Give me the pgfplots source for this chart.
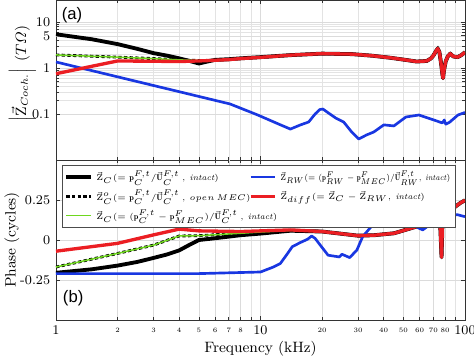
\documentclass[border=0pt]{standalone}
\usepackage{amsmath}
\usepackage{graphicx}
\usepackage{fontspec}
\usepackage{pgfplots}
\pgfplotsset{compat=1.18}
\newfontfamily\arial{Liberation Sans}
\definecolor{cblue}{RGB}{25,55,225}
\definecolor{cred}{RGB}{235,30,35}
\definecolor{cgreen}{RGB}{110,215,30}
\tikzset{
  cblk/.style={black, line width=2.3pt, line join=round},
  cdash/.style={black, line width=1.7pt, dash pattern=on 2pt off 1.4pt},
  cgrn/.style={cgreen, line width=0.9pt, line join=round},
  cblu/.style={cblue, line width=1.6pt, line join=round},
  cre/.style={cred, line width=2.0pt, line join=round},
}
\begin{document}
\begin{tikzpicture}
\useasboundingbox (-33.6pt,-22.2pt) rectangle (250.8pt,192pt);
% ---------------- top panel ----------------
\begin{axis}[
  xmode=log, xmin=1, xmax=100,
  scale only axis, width=245.4pt, height=96pt,
  grid=both,
  major grid style={gray!28, line width=0.3pt},
  minor grid style={gray!22, line width=0.3pt},
  tick align=inside,
  major tick length=2.6pt, minor tick length=1.6pt,
  tick style={black!80, line width=0.4pt},
  axis line style={black!80, line width=0.5pt},
  tick label style={font=\footnotesize},
  label style={font=\small},
  at={(0,96pt)}, anchor=south west,
  ymode=log, ymin=0.01, ymax=30,
  xtick={1,10,100}, xticklabels={,,},
  ytick={0.1,1,10}, yticklabels={0.1,1,10},
  extra y ticks={5}, extra y tick labels={5},
  ylabel={$\left|\vec{\mathrm{Z}}_{Coch.}\right|\;(T\varOmega)$},
  ylabel style={at={(axis description cs:-0.082,0.54)}, anchor=center, rotate=0},
]
\addplot[cblk] coordinates {(1,5.4)(1.5,4.2)(2,3.3)(2.5,2.6)(3,2.1)(3.5,1.85)(4,1.62)(4.5,1.42)(5,1.25)(5.5,1.38)(6,1.5)(7,1.55)(8,1.62)(10,1.72)(14,1.9)(20,2.05)(28,2.0)(35,1.85)(43,1.67)(50,1.52)(58,1.38)(65,1.42)(68,1.6)(70,1.85)(72,2.3)(73.6,2.65)(75,2.2)(76.5,1.2)(77.5,0.75)(78.1,0.6)(79,0.9)(80.5,1.4)(82.5,1.8)(84.7,2.05)(87.6,1.78)(92,1.72)(96,1.9)(100,2.2)};
\addplot[cdash] coordinates {(1,1.92)(2,1.72)(3,1.6)(4,1.5)(5,1.45)(6,1.47)(7,1.52)(8,1.6)(10,1.7)(14,1.9)(20,2.05)(28,2.0)(35,1.85)(43,1.67)(50,1.52)(58,1.38)(65,1.42)(68,1.6)(70,1.85)(72,2.3)(73.6,2.65)(75,2.2)(76.5,1.2)(77.5,0.75)(78.1,0.6)(79,0.9)(80.5,1.4)(82.5,1.8)(84.7,2.05)(87.6,1.78)(92,1.72)(96,1.9)(100,2.2)};
\addplot[cgrn] coordinates {(1,1.92)(2,1.72)(3,1.6)(4,1.5)(5,1.45)(6,1.47)(7,1.52)(8,1.6)(10,1.7)(14,1.9)(20,2.05)(28,2.0)(35,1.85)(43,1.67)(50,1.52)(58,1.38)(65,1.42)(68,1.6)(70,1.85)(72,2.3)(73.6,2.65)(75,2.2)(76.5,1.2)(77.5,0.75)(78.1,0.6)(79,0.9)(80.5,1.4)(82.5,1.8)(84.7,2.05)(87.6,1.78)(92,1.72)(96,1.9)(100,2.2)};
\addplot[cblu] coordinates {(1,1.35)(7.1,0.165)(9.7,0.095)(12,0.063)(14,0.047)(15.7,0.058)(17.2,0.067)(18.5,0.1)(19.5,0.125)(20.2,0.128)(21.5,0.105)(23.3,0.082)(25.5,0.067)(28,0.04)(30.2,0.0286)(33,0.035)(35.8,0.0406)(40.1,0.058)(44.9,0.055)(51.4,0.086)(59.5,0.095)(68,0.078)(77.5,0.064)(79.2,0.074)(80.5,0.06)(84,0.066)(92.4,0.095)(100,0.108)};
\addplot[cre] coordinates {(1,0.75)(1.5,1.09)(2,1.42)(3,1.4)(4,1.38)(5,1.42)(6,1.47)(7,1.52)(8,1.6)(10,1.7)(14,1.9)(20,2.05)(28,2.0)(35,1.85)(43,1.67)(50,1.52)(58,1.38)(65,1.42)(68,1.6)(70,1.85)(72,2.3)(73.6,2.65)(75,2.2)(76.5,1.2)(77.5,0.75)(78.1,0.6)(79,0.9)(80.5,1.4)(82.5,1.8)(84.7,2.05)(87.6,1.78)(92,1.72)(96,1.9)(100,2.2)};
\node[font=\arial\fontsize{10}{12}\selectfont] at (axis description cs:0.039,0.906) {(a)};
\end{axis}
% ---------------- bottom panel ----------------
\begin{axis}[
  xmode=log, xmin=1, xmax=100,
  scale only axis, width=245.4pt, height=96pt,
  grid=both,
  major grid style={gray!28, line width=0.3pt},
  minor grid style={gray!22, line width=0.3pt},
  tick align=inside,
  major tick length=2.6pt, minor tick length=1.6pt,
  tick style={black!80, line width=0.4pt},
  axis line style={black!80, line width=0.5pt},
  tick label style={font=\footnotesize},
  label style={font=\small},
  at={(0,0)}, anchor=south west,
  ymin=-0.5, ymax=0.5,
  ytick={-0.25,0,0.25}, yticklabels={-0.25,0,0.25},
  xtick={1,10,100}, xticklabels={1,10,100},
  extra x ticks={2,3,4,5,6,7,8,20,30,40,50,60,70,80},
  extra x tick labels={2,3,4,5,6,7,8,20,30,40,50,60,70,80},
  extra x tick style={tick label style={font=\fontsize{4}{5}\selectfont, yshift=-1.5pt}, major tick length=1.6pt},
  xlabel={Frequency (kHz)}, ylabel={Phase (cycles)},
  xlabel style={yshift=3pt},
  ylabel style={at={(axis description cs:-0.108,0.5)}, anchor=center, rotate=0},
  legend columns=2,
  legend cell align=left,
  legend style={at={(axis description cs:0.015,0.969)}, anchor=north west,
    font=\fontsize{5}{6}\selectfont, draw=black!70, line width=0.4pt, fill=white,
    inner sep=1.2pt, row sep=0pt,
    /tikz/every even column/.append style={column sep=-19pt}},
  legend image code/.code={\draw[#1] (0cm,0cm) -- (0.52cm,0cm);},
]
\addlegendimage{cblk}
\addlegendentry{$\vec{\mathrm{Z}}_C(=\mathbf{p}_C^{F,t}/\vec{\mathbf{U}}_C^{F,t}\,,\,\textit{intact})$}
\addlegendimage{cblu}
\addlegendentry{\scalebox{0.85}[1]{$\vec{\mathrm{Z}}_{RW}(=(\mathbf{p}^F_{RW}-\mathbf{p}^F_{MEC})/\vec{\mathbf{U}}_{RW}^{F,t},\,\textit{intact})$}}
\addlegendimage{cdash}
\addlegendentry{$\vec{\mathrm{Z}}^o_C(=\mathbf{p}_C^{F,t}/\vec{\mathbf{U}}_C^{F,t}\,,\,open\,MEC)$}
\addlegendimage{cre}
\addlegendentry{$\vec{\mathrm{Z}}_{diff}(=\vec{\mathrm{Z}}_C-\vec{\mathrm{Z}}_{RW},\,\textit{intact})$}
\addlegendimage{cgrn}
\addlegendentry{$\vec{\mathrm{Z}}_C(=(\mathbf{p}_C^{F,t}-\mathbf{p}^F_{MEC})/\vec{\mathbf{U}}_C^{F,t}\,,\,\textit{intact})$}
\addplot[cblk, forget plot] coordinates {(1,-0.205)(1.5,-0.183)(2,-0.16)(2.5,-0.137)(3,-0.112)(3.5,-0.09)(4,-0.065)(4.5,-0.03)(5,0.0)(6,0.011)(8,0.03)(10,0.04)(14,0.058)(20,0.053)(30,0.027)(36,0.03)(45,0.042)(58,0.084)(65,0.12)(70,0.147)(73.6,0.18)(75.5,0.12)(76.8,-0.108)(77.6,0.1)(78.3,0.218)(80,0.2)(84.7,0.185)(90,0.21)(95,0.232)(100,0.248)};
\addplot[cdash, forget plot] coordinates {(1,-0.169)(2,-0.084)(3,-0.032)(4,0.025)(5,0.027)(8,0.042)(10,0.05)(14,0.06)(20,0.053)(30,0.027)(36,0.03)(45,0.042)(58,0.084)(65,0.12)(70,0.147)(73.6,0.18)(75.5,0.12)(76.8,-0.108)(77.6,0.1)(78.3,0.218)(80,0.2)(84.7,0.185)(90,0.21)(95,0.232)(100,0.248)};
\addplot[cgrn, forget plot] coordinates {(1,-0.169)(2,-0.084)(3,-0.032)(4,0.025)(5,0.027)(8,0.042)(10,0.05)(14,0.06)(20,0.053)(30,0.027)(36,0.03)(45,0.042)(58,0.084)(65,0.12)(70,0.147)(73.6,0.18)(75.5,0.12)(76.8,-0.108)(77.6,0.1)(78.3,0.218)(80,0.2)(84.7,0.185)(90,0.21)(95,0.232)(100,0.248)};
\addplot[cblu, forget plot] coordinates {(1,-0.21)(5,-0.21)(10,-0.2)(11.5,-0.17)(12.5,-0.147)(13.5,-0.088)(14.3,-0.042)(15.6,-0.017)(17,0.005)(17.8,0.025)(18.5,0.01)(19.6,-0.032)(21.4,-0.095)(24.3,-0.106)(25.0,-0.089)(27.3,-0.11)(29.6,-0.063)(31.6,0.021)(35.4,0.095)(38,0.095)(41.5,0.084)(45,0.1)(48.1,0.127)(55,0.095)(62.1,0.063)(69.7,0.11)(80,0.158)(91.8,0.158)(100,0.146)};
\addplot[cre, forget plot] coordinates {(1,-0.07)(2,-0.021)(3,0.032)(4,0.068)(5,0.057)(8,0.053)(14,0.063)(20,0.053)(30,0.027)(36,0.03)(45,0.042)(58,0.084)(65,0.12)(70,0.147)(73.6,0.18)(75.5,0.12)(76.8,-0.108)(77.6,0.1)(78.3,0.218)(80,0.2)(84.7,0.185)(90,0.21)(95,0.232)(100,0.248)};
\node[font=\arial\fontsize{10}{12}\selectfont] at (axis description cs:0.042,0.1375) {(b)};
\end{axis}
\end{tikzpicture}
\end{document}
